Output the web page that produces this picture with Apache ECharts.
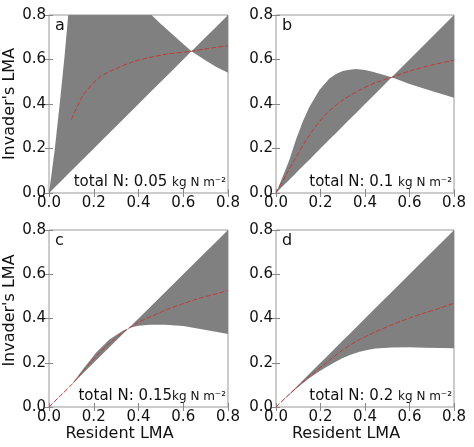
<!DOCTYPE html>
<html>
<head>
<meta charset="utf-8">
<script src="https://cdn.jsdelivr.net/npm/echarts@6/dist/echarts.min.js"></script>
<style>
  html, body { margin: 0; padding: 0; background: #fff; }
  #chart { width: 474px; height: 447px; }
</style>
</head>
<body>
<div id="chart"></div>
<script>
// panel a: total N 0.05 - x positions and edge of the grey region (other edge is y = x)
const xA = [0, 0.025, 0.05, 0.07, 0.086, 0.1, 0.2, 0.3, 0.4, 0.458, 0.5, 0.55, 0.6, 0.637, 0.7, 0.75, 0.8];
const edgeA = [0, 0.19, 0.42, 0.62, 0.8, 0.8, 0.8, 0.8, 0.8, 0.8, 0.76, 0.715, 0.67, 0.637, 0.595, 0.565, 0.54];
const redXA = [0.1, 0.153, 0.228, 0.302, 0.376, 0.45, 0.525, 0.637, 0.7, 0.8];
const redYA = [0.33, 0.44, 0.522, 0.56, 0.59, 0.609, 0.624, 0.637, 0.648, 0.662];

// panel b: total N 0.1
const xB = [0, 0.03, 0.06, 0.09, 0.12, 0.15, 0.195, 0.24, 0.27, 0.3, 0.33, 0.36, 0.4, 0.434, 0.47, 0.52, 0.6, 0.7, 0.8];
const edgeB = [0, 0.073, 0.148, 0.24, 0.32, 0.387, 0.463, 0.515, 0.535, 0.548, 0.554, 0.557, 0.553, 0.545, 0.535, 0.52, 0.49, 0.458, 0.428];
const redXB = [0, 0.05, 0.09, 0.15, 0.225, 0.3, 0.375, 0.45, 0.52, 0.6, 0.7, 0.8];
const redYB = [0, 0.09, 0.16, 0.26, 0.355, 0.418, 0.462, 0.497, 0.52, 0.548, 0.575, 0.597];

// panel c: total N 0.15
const xC = [0, 0.05, 0.1, 0.15, 0.21, 0.27, 0.33, 0.355, 0.375, 0.4, 0.45, 0.52, 0.6, 0.67, 0.745, 0.8];
const edgeC = [0, 0.051, 0.1, 0.168, 0.245, 0.305, 0.345, 0.355, 0.362, 0.367, 0.372, 0.372, 0.366, 0.354, 0.34, 0.33];
const redXC = [0, 0.05, 0.1, 0.15, 0.21, 0.27, 0.33, 0.355, 0.4, 0.447, 0.521, 0.596, 0.67, 0.745, 0.8];
const redYC = [0, 0.05, 0.1, 0.159, 0.228, 0.288, 0.338, 0.355, 0.383, 0.405, 0.438, 0.466, 0.491, 0.511, 0.527];

// panel d: total N 0.2
const xD = [0, 0.05, 0.1, 0.149, 0.185, 0.223, 0.26, 0.298, 0.335, 0.372, 0.41, 0.447, 0.52, 0.6, 0.67, 0.745, 0.8];
const edgeD = [0, 0.047, 0.092, 0.13, 0.155, 0.179, 0.2, 0.22, 0.236, 0.249, 0.258, 0.264, 0.269, 0.27, 0.268, 0.267, 0.265];
const redXD = [0, 0.05, 0.1, 0.15, 0.22, 0.3, 0.37, 0.45, 0.52, 0.6, 0.67, 0.745, 0.8];
const redYD = [0, 0.048, 0.094, 0.138, 0.195, 0.258, 0.302, 0.341, 0.371, 0.402, 0.426, 0.45, 0.469];

const panelLetters = ["a", "b", "c", "d"];
const totalN = ["0.05 ", "0.1 ", "0.15", "0.2 "];
const axisMin = 0;
const axisMax = 0.8;
const tickStep = 0.2;

const FONT = "DejaVu Sans";
const GREY = "#808080";
const RED = "#c03a3a";

const panels = [
  { xs: xA, edge: edgeA, rx: redXA, ry: redYA },
  { xs: xB, edge: edgeB, rx: redXB, ry: redYB },
  { xs: xC, edge: edgeC, rx: redXC, ry: redYC },
  { xs: xD, edge: edgeD, rx: redXD, ry: redYD },
];

// plot boxes in px
const boxes = [
  { left: 49, top: 15, width: 179, height: 178 },
  { left: 276, top: 15, width: 178, height: 178 },
  { left: 49, top: 230, width: 179, height: 177 },
  { left: 276, top: 230, width: 178, height: 177 },
];

const chart = echarts.init(document.getElementById("chart"));

const grid = [];
const xAxis = [];
const yAxis = [];
const series = [];
const graphic = [];

function baseAxis(gi, pos, withLabel) {
  return {
    type: "value",
    gridIndex: gi,
    position: pos,
    min: axisMin,
    max: axisMax,
    interval: tickStep,
    axisLine: { show: false },
    splitLine: { show: false },
    axisTick: { show: true, inside: true, length: 4, lineStyle: { color: "#888" } },
    axisLabel: {
      show: withLabel,
      fontFamily: FONT,
      fontSize: 15,
      color: "#111",
      margin: 3,
      formatter: (v) => v.toFixed(1),
    },
  };
}

panels.forEach((p, i) => {
  const b = boxes[i];
  grid.push({
    left: b.left, top: b.top, width: b.width, height: b.height,
    show: true, borderColor: "#999", borderWidth: 1, backgroundColor: "#fff",
  });

  const xb = baseAxis(i, "bottom", true);
  const yl = baseAxis(i, "left", true);
  if (i >= 2) {
    xb.name = "Resident LMA";
    xb.nameLocation = "middle";
    xb.nameGap = 19;
    xb.nameTextStyle = { fontFamily: FONT, fontSize: 16, color: "#111", padding: [0, 38, 0, 0] };
  }
  if (i % 2 === 0) {
    yl.name = "Invader's LMA";
    yl.nameLocation = "middle";
    yl.nameGap = 30;
    yl.nameTextStyle = {
      fontFamily: FONT, fontSize: 16, color: "#111",
      padding: i === 2 ? [0, 0, 0, 16] : 0,
    };
  }
  xAxis.push(xb, baseAxis(i, "top", false));
  yAxis.push(yl, baseAxis(i, "right", false));

  // region between y = x and the edge curve
  const ring = p.xs.map((x) => [x, x])
    .concat(p.xs.map((x, k) => [x, p.edge[k]]).reverse());
  series.push({
    type: "custom",
    xAxisIndex: 2 * i,
    yAxisIndex: 2 * i,
    data: ring,
    encode: { x: 0, y: 1 },
    silent: true,
    renderItem: function (params, api) {
      if (params.dataIndex !== 0) return null;
      return {
        type: "polygon",
        shape: { points: ring.map((pt) => api.coord(pt)) },
        style: { fill: GREY },
      };
    },
  });

  series.push({
    type: "line",
    xAxisIndex: 2 * i,
    yAxisIndex: 2 * i,
    data: p.rx.map((x, k) => [x, p.ry[k]]),
    showSymbol: false,
    smooth: 0.3,
    silent: true,
    lineStyle: { color: RED, width: 1, type: [5, 2] },
    z: 5,
  });

  graphic.push({
    type: "text",
    left: b.left + 6,
    top: b.top + 3,
    z: 10,
    style: { text: panelLetters[i], fontFamily: FONT, fontSize: 16, fill: "#111" },
  });
  graphic.push({
    type: "text",
    x: b.left + b.width - 2,
    y: b.top + b.height - 2,
    z: 10,
    style: {
      text: "{n|total N: " + totalN[i] + "}{u|kg N m⁻²}",
      align: "right",
      verticalAlign: "bottom",
      rich: {
        n: { fontFamily: FONT, fontSize: 15, lineHeight: 17, fill: "#111", verticalAlign: "middle" },
        u: { fontFamily: FONT, fontSize: 12, lineHeight: 17, fill: "#111", verticalAlign: "middle" },
      },
    },
  });
});

chart.setOption({
  backgroundColor: "#fff",
  animation: false,
  grid: grid,
  xAxis: xAxis,
  yAxis: yAxis,
  series: series,
  graphic: graphic,
});
</script>
</body>
</html>
